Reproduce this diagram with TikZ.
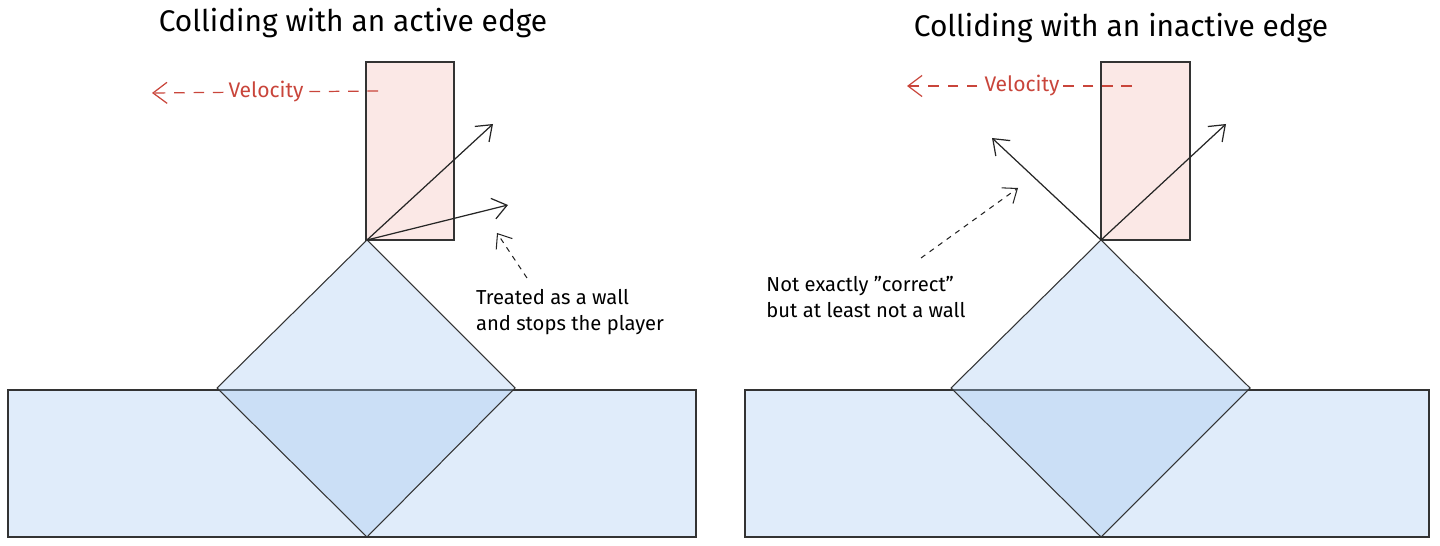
\documentclass[tikz,border=0pt]{standalone}
\usepackage{fontspec}
\setmainfont{Fira Sans}
\usetikzlibrary{arrows.meta}
\definecolor{bfill}{HTML}{A5C8F0}
\definecolor{rfill}{HTML}{F5C6C0}
\definecolor{vel}{HTML}{C9453B}
\tikzset{
  px/.style={x=0.02cm,y=-0.02cm},
  bluebox/.style={draw=black!80,line width=0.6pt,fill=bfill,fill opacity=0.35},
  redbox/.style={draw=black!80,line width=0.6pt,fill=rfill,fill opacity=0.4},
  vec/.style={draw=black!85,line width=0.7pt,-{Straight Barb[length=8pt,width=12pt]}},
  velarrow/.style={draw=vel,dashed,dash pattern=on 6pt off 5pt,line width=0.7pt,-{Straight Barb[length=8pt,width=12pt]}},
  note/.style={draw=black!85,dashed,line width=0.6pt,-{Straight Barb[length=7pt,width=11pt]}},
  title/.style={font=\fontsize{17}{20}\selectfont},
  lbl/.style={font=\fontsize{11.5}{15}\selectfont,align=left},
  vlbl/.style={font=\fontsize{12}{14}\selectfont,text=vel,fill=white,inner sep=1pt}
}
\begin{document}
\begin{tikzpicture}[px]
\useasboundingbox (0,0) rectangle (1440,546);
% ---- left panel
\node[title] (t1) at (353,23) {Colliding with an active edge};
\path[bluebox] (8,390) rectangle (696,537);
\path[bluebox] (367,240) -- (515,388) -- (367,537) -- (217,388) -- cycle;
\path[redbox] (366,62) rectangle (454,240);
\coordinate (c1) at (367,240);
\coordinate (a1) at (493,124);
\coordinate (b1) at (508,205);
\draw[vec] (c1) -- (a1);
\draw[vec] (c1) -- (b1);
\coordinate (v1s) at (378,91);
\coordinate (v1e) at (152,93);
\draw[velarrow] (v1s) -- (v1e);
\node[vlbl] (vl1) at (266,92) {Velocity};
\node[lbl] (n1) at (570,312) {Treated as a wall\\and stops the player};
\coordinate (n1s) at (527,278);
\coordinate (n1e) at (497,233);
\draw[note] (n1s) -- (n1e);
% ---- right panel
\node[title] (t2) at (1121,28) {Colliding with an inactive edge};
\path[bluebox] (745,390) rectangle (1429,537);
\path[bluebox] (1101,240) -- (1250,388) -- (1101,537) -- (951,388) -- cycle;
\path[redbox] (1101,62) rectangle (1190,240);
\coordinate (c2) at (1101,240);
\coordinate (a2) at (1226,124);
\coordinate (b2) at (992,138);
\draw[vec] (c2) -- (a2);
\draw[vec] (c2) -- (b2);
\coordinate (v2s) at (1132,86);
\coordinate (v2e) at (907,86);
\draw[velarrow] (v2s) -- (v2e);
\node[vlbl] (vl2) at (1022,86) {Velocity};
\node[lbl] (n2) at (866,297) {Not exactly "correct"\\but at least not a wall};
\coordinate (n2s) at (921,258);
\coordinate (n2e) at (1018,188);
\draw[note] (n2s) -- (n2e);
\end{tikzpicture}
\end{document}
